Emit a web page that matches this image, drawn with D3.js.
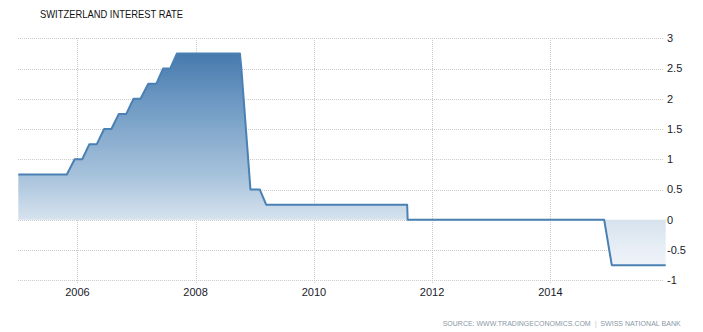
<!DOCTYPE html>
<html>
<head>
<meta charset="utf-8">
<script src="https://cdn.jsdelivr.net/npm/d3@7"></script>
<style>
  body { margin: 0; background: #fff; }
  svg { display: block; font-family: "Liberation Sans", Arial, sans-serif; }
</style>
</head>
<body>
<svg id="chart" width="703" height="332"></svg>
<script>
// rate change points (date, policy rate %)
var rateDates = [
  "2005-01-01", "2005-10-28", "2005-12-15", "2006-01-31", "2006-03-16",
  "2006-05-01", "2006-06-15", "2006-07-30", "2006-09-14", "2006-10-30",
  "2006-12-14", "2007-01-26", "2007-03-15", "2007-05-04", "2007-06-14",
  "2007-07-28", "2007-09-08", "2008-10-01", "2008-10-10", "2008-12-05",
  "2009-02-01", "2009-03-12", "2011-07-31", "2011-08-03", "2014-11-29",
  "2015-01-15", "2015-12-14"
];
var rateValues = [
  0.75, 0.75, 1, 1, 1.25,
  1.25, 1.5, 1.5, 1.75, 1.75,
  2, 2, 2.25, 2.25, 2.5,
  2.5, 2.75, 2.75, 2.5, 0.5,
  0.5, 0.25, 0.25, 0, 0,
  -0.75, -0.75
];
var yTicks = [-1, -0.5, 0, 0.5, 1, 1.5, 2, 2.5, 3];
var xTickYears = [2006, 2008, 2010, 2012, 2014];

var title = "SWITZERLAND INTEREST RATE";
var sourceLeft = "SOURCE: WWW.TRADINGECONOMICS.COM";
var sourceRight = "SWISS NATIONAL BANK";

var parse = d3.timeParse("%Y-%m-%d");
var data = rateDates.map(function(d, i) {
  return {date: parse(d), value: rateValues[i]};
});

var svg = d3.select("#chart");
var plotLeft = 18.3, plotRight = 665.7, plotTop = 38.3, plotBottom = 280.3;

var x = d3.scaleTime()
    .domain([data[0].date, data[data.length - 1].date])
    .range([plotLeft, plotRight]);
var y = d3.scaleLinear()
    .domain([-1, 3])
    .range([plotBottom, plotTop]);

var defs = svg.append("defs");
var grad = defs.append("linearGradient")
    .attr("id", "fillGrad")
    .attr("gradientUnits", "userSpaceOnUse")
    .attr("x1", 0).attr("x2", 0)
    .attr("y1", y(2.75)).attr("y2", y(-1));
[[0, "#4679ad"], [0.2, "#6b97c2"], [0.55, "#a9c4dc"], [0.73, "#d6e2ee"], [0.85, "#e6edf5"], [1, "#f7f9fc"]]
  .forEach(function(s) {
    grad.append("stop").attr("offset", s[0]).attr("stop-color", s[1]);
  });

// grid
var grid = svg.append("g")
    .attr("stroke", "#cccccc")
    .attr("stroke-dasharray", "1,1")
    .attr("shape-rendering", "crispEdges");

grid.selectAll("line.h")
  .data(yTicks)
  .enter().append("line")
    .attr("class", "h")
    .attr("x1", plotLeft)
    .attr("x2", 664)
    .attr("y1", function(d) { return Math.round(y(d)) + 0.5; })
    .attr("y2", function(d) { return Math.round(y(d)) + 0.5; });

grid.selectAll("line.v")
  .data(xTickYears)
  .enter().append("line")
    .attr("class", "v")
    .attr("x1", function(d) { return Math.round(x(new Date(d, 0, 1))) + 0.5; })
    .attr("x2", function(d) { return Math.round(x(new Date(d, 0, 1))) + 0.5; })
    .attr("y1", plotTop)
    .attr("y2", plotBottom + 3);

// area between the line and zero
var area = d3.area()
    .x(function(d) { return x(d.date); })
    .y0(y(0))
    .y1(function(d) { return y(d.value); });

svg.append("path")
    .datum(data)
    .attr("fill", "url(#fillGrad)")
    .attr("d", area);

var line = d3.line()
    .x(function(d) { return x(d.date); })
    .y(function(d) { return y(d.value); });

svg.append("path")
    .datum(data)
    .attr("fill", "none")
    .attr("stroke", "#4a80b3")
    .attr("stroke-width", 2)
    .attr("stroke-linejoin", "round")
    .attr("d", line);

// y labels on the right
svg.append("g").selectAll("text")
  .data(yTicks)
  .enter().append("text")
    .attr("x", 667)
    .attr("y", function(d) { return y(d); })
    .attr("dy", "0.35em")
    .attr("font-size", 11)
    .attr("fill", "#1a1a2a")
    .text(function(d) { return d; });

svg.append("g").selectAll("text")
  .data(xTickYears)
  .enter().append("text")
    .attr("x", function(d) { return x(new Date(d, 0, 1)); })
    .attr("y", 292)
    .attr("dy", "0.35em")
    .attr("text-anchor", "middle")
    .attr("font-size", 11)
    .attr("fill", "#1a1a2a")
    .text(function(d) { return d; });

svg.append("text")
    .attr("x", 40)
    .attr("y", 18)
    .attr("font-size", 11)
    .attr("fill", "#111")
    .attr("textLength", 143)
    .attr("lengthAdjust", "spacingAndGlyphs")
    .text(title);

// source line, three pieces
var srcY = 325.5;
svg.append("text")
    .attr("x", 442.7)
    .attr("y", srcY)
    .attr("font-size", 8)
    .attr("fill", "#8a98a6")
    .attr("textLength", 148)
    .attr("lengthAdjust", "spacingAndGlyphs")
    .text(sourceLeft);
svg.append("text")
    .attr("x", 595.8)
    .attr("y", srcY)
    .attr("font-size", 8)
    .attr("fill", "#c4ccd4")
    .attr("text-anchor", "middle")
    .text("|");
svg.append("text")
    .attr("x", 600.3)
    .attr("y", srcY)
    .attr("font-size", 8)
    .attr("fill", "#8a98a6")
    .attr("textLength", 80.4)
    .attr("lengthAdjust", "spacingAndGlyphs")
    .text(sourceRight);
</script>
</body>
</html>
